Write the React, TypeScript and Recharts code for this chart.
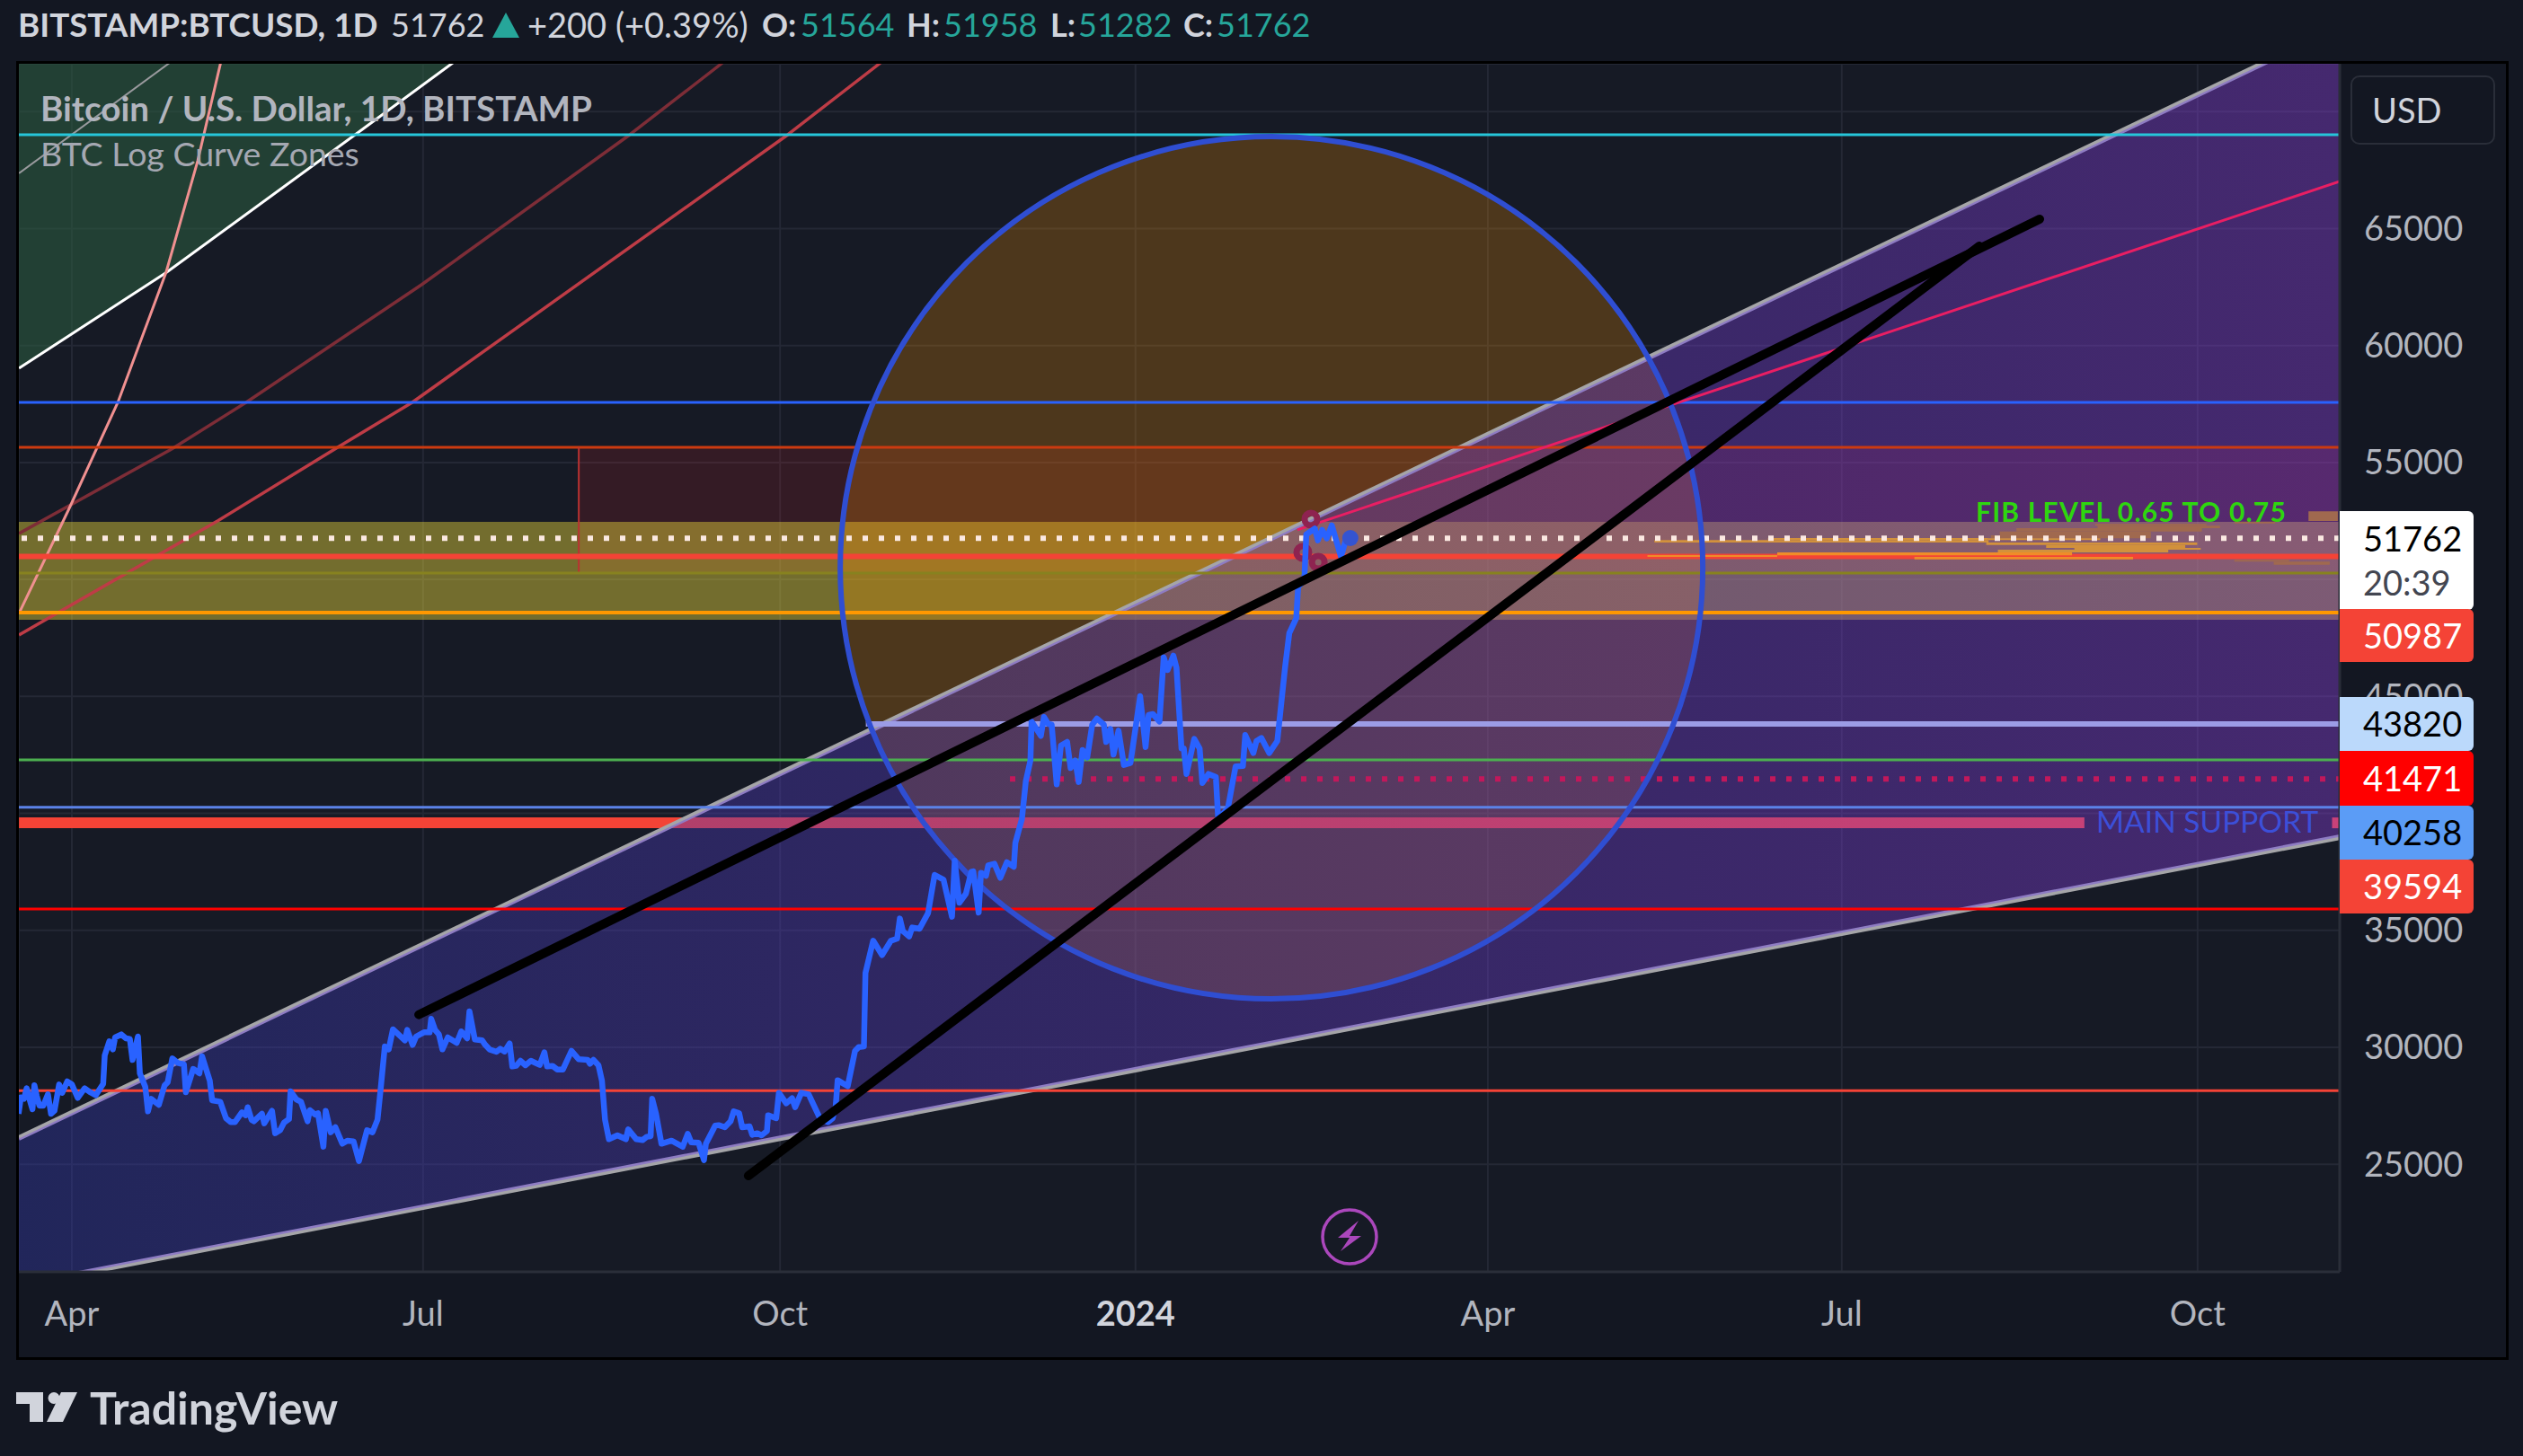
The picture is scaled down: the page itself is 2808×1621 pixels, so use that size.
import {
  Area,
  CartesianGrid,
  ComposedChart,
  Line,
  ReferenceArea,
  ReferenceDot,
  ReferenceLine,
  XAxis,
  YAxis,
} from "recharts";

type Pair = [number, number];

// x unit is days since 1 Apr 2023
const xDomain = [-13.72, 586.98];
const yDomain = [20398, 72046];
const xTicks = [0, 90.9, 183.3, 275.3, 366.5, 458.1, 550.2];
const xTickLabels = ["Apr", "Jul", "Oct", "2024", "Apr", "Jul", "Oct"];
const yTicks = [25000, 30000, 35000, 40000, 45000, 50000, 55000, 60000, 65000, 70000];
// these three sit fully behind the USD button and the price tags
const hiddenYLabels = [40000, 50000, 70000];

const closes: Pair[] = [
  [-13.8, 27157], [-13.2, 27861], [-12.4, 27797], [-11.7, 28245], [-11, 27797], [-10.2, 27349], [-9.7, 28373],
  [-9.1, 27925], [-8.4, 27503], [-7.4, 27503], [-6.2, 27989], [-5.4, 27157], [-4.5, 27285], [-3.3, 28411],
  [-2.5, 28053], [-1.2, 28539], [0, 28411], [1.5, 27835], [3.3, 28245], [4.7, 28079], [6.2, 27951], [7.1, 28181],
  [8.1, 28437], [8.5, 29653], [9.7, 30255], [10.6, 29909], [11.2, 30421], [12.8, 30549], [14, 30383], [15, 30357],
  [15.7, 29461], [17.1, 30459], [17.6, 28885], [19, 28309], [19.7, 27259], [20.5, 27797], [22.5, 27541], [24, 28373],
  [24.8, 28501], [26, 29525], [27.4, 29333], [29, 29269], [29.5, 28079], [31.4, 29077], [33, 28885], [33.7, 29615],
  [35.7, 28565], [36.3, 27733], [38.4, 27669], [39.9, 26965], [41.1, 26799], [42.2, 26799], [44, 27221], [45, 27093],
  [45.5, 27437], [46.5, 26901], [47.1, 26837], [49.2, 27157], [49.8, 26747], [51.8, 27285], [52.6, 26325],
  [53.9, 26453], [54.9, 26773], [56.2, 26927], [56.6, 28117], [58.1, 27771], [59.3, 27669], [61, 26837], [61.6, 27309],
  [63, 27117], [63.7, 27181], [65.1, 25749], [65.7, 27285], [67, 26363], [68.2, 26581], [70, 25877], [71.3, 26005],
  [72.9, 25979], [74.3, 25135], [76.4, 26453], [77.8, 26363], [79.1, 26901], [79.9, 28181], [81, 30037], [82, 29909],
  [83.1, 30767], [86.2, 30293], [86.8, 30741], [88.2, 30101], [89.1, 30459], [91.1, 30639], [92.6, 30639], [93, 31215],
  [94, 30741], [95, 30549], [95.9, 29909], [97.3, 30421], [99.6, 30191], [100.8, 30677], [102.3, 30383], [102.9, 31535],
  [104.3, 30331], [106.2, 30293], [107, 30101], [108.1, 29909], [109.9, 29807], [110.9, 29935], [112, 29819],
  [113.3, 30165], [114, 29179], [115, 29205], [116.1, 29423], [117.4, 29231], [118.8, 29423], [121.1, 29243],
  [122.3, 29781], [123, 29179], [124.4, 29205], [125.6, 29051], [127.1, 29051], [129.3, 29845], [131.2, 29487],
  [133.5, 29461], [134.1, 29295], [135, 29461], [136.3, 29231], [137.2, 28565], [138, 26901], [139, 26069],
  [141.2, 26235], [143.4, 26069], [144, 26491], [146.1, 26069], [147.7, 26031], [148.8, 26171], [149.8, 26197],
  [150.2, 27797], [151.2, 27157], [152.6, 25877], [155.2, 26005], [158.1, 25749], [159.4, 26299], [160.3, 25941],
  [162.2, 25915], [163.6, 25173], [164.1, 25877], [166.5, 26645], [167.4, 26671], [169, 26581], [170.5, 26837],
  [171.3, 27259], [172.7, 27183], [173.5, 26581], [175.4, 26619], [176.1, 26261], [177.4, 26325], [178.5, 26235],
  [179.9, 26415], [180.2, 27093], [182.3, 26965], [183, 28053], [184.9, 27605], [186.4, 27823], [187.2, 27439],
  [188.8, 28053], [190.7, 27989], [193.6, 26965], [195.7, 26799], [196.9, 26965], [197.7, 27477], [198.2, 28591],
  [200.8, 28335], [202.7, 29845], [203.7, 30011], [205, 30037], [205.4, 33173], [207.4, 34555], [209.7, 33941],
  [212, 34555], [213.6, 34645], [214.3, 35503], [215.1, 34965], [216.7, 34735], [217.5, 35119], [219.4, 35067],
  [221.6, 35733], [223.3, 37371], [225.6, 37167], [227.8, 35579], [228.5, 37973], [229.7, 36181], [231.4, 36565],
  [232.8, 37499], [233.3, 37525], [234.7, 35759], [235.3, 37461], [236.6, 37333], [237.2, 37781], [238.8, 37845],
  [240.3, 37243], [242, 37909], [243.8, 37717], [244.2, 38741], [245.9, 39765], [246.9, 41365], [248.1, 42261],
  [248.4, 43925], [250.8, 43311], [251.6, 44117], [252.7, 43823], [253.6, 43797], [254.9, 41237], [256, 42901],
  [257.6, 43055], [258.5, 41941], [259.7, 42261], [260.6, 41339], [261.6, 42709], [262.8, 42389], [264.1, 43797],
  [265.3, 44053], [267.1, 43797], [267.7, 43055], [268.8, 43605], [269.6, 42517], [270.9, 43541], [272.3, 42069],
  [274, 42159], [276.5, 45013], [277.9, 42837], [278.7, 44207], [279.8, 44245], [281.5, 43925], [282.6, 46677],
  [283.6, 46127], [285.1, 46741], [285.9, 46229], [287.2, 42773], [287.8, 42773], [288.5, 41685], [290.5, 43183],
  [291.9, 42773], [292.6, 41301], [294.2, 41685], [296.1, 41557], [296.7, 39765], [299.2, 40213], [301.2, 42005],
  [303.1, 42031], [303.7, 43349], [305.8, 42581], [306.6, 43093], [307.9, 43221], [309.9, 42581], [312, 43093],
  [314, 46229], [315.1, 47701], [316.9, 48341], [317.4, 49685], [319, 50005], [319.5, 51925], [321.7, 52181],
  [322.5, 51669], [323.6, 52117], [324.8, 51759], [326.1, 52309], [328.5, 50965], [329.8, 51733],
];

// log curves, top left
const whiteCurve: Pair[] = [[-13.7, 59029], [24.4, 63115], [73.3, 69013], [98.6, 72085]];
const grayCurve: Pair[] = [[-13.7, 67362], [25.3, 72086]];
const pinkCurve: Pair[] = [[-13.7, 48547], [-0.8, 53000], [11.9, 57570], [24.4, 63138], [32.6, 67915], [38.5, 72085]];
const darkRedCurve: Pair[] = [[-13.7, 51963], [25.8, 55573], [45.1, 57570], [90.5, 62600], [144.4, 69013], [168.4, 72085]];
const redCurve: Pair[] = [[-13.7, 47625], [37.7, 52501], [68.8, 55650], [88.1, 57570], [185.3, 69013], [209.3, 72085]];

// channel and trend lines
const channelDays = [-13.7, 587];
const channelUpper = [26083, 73596];
const channelLower = [19866, 39022];
const fibLine: Pair[] = [[317.2, 52120], [587, 67016]];
const blackLine1: Pair[] = [[89.8, 31395], [509.3, 65403]];
const blackLine2: Pair[] = [[175.1, 24505], [493.7, 64251]];

// horizontal levels
const cyanLevel = 69013;
const blueLevel = 57570;
const rustLevel = 55650;
const lastPrice = 51762;
const redLevel = 50987;
const oliveLevel = 50270;
const orangeLevel = 48580;
const greenLevel = 42290;
const steelLevel = 40258;
const deepRedLevel = 35912;
const lowRedLevel = 28150;
const lavenderSegment: Pair[] = [[205.5, 43820], [587, 43820]];
const crimsonDots: Pair[] = [[242.8, 41471], [587, 41471]];
const supportLeft: Pair[] = [[-13.7, 39594], [520.9, 39594]];
const supportRight: Pair[] = [[585, 39594], [587, 39594]];
const fibBand = [48275, 52460];
const boxStartDay = 131.2;
const boxRange = [50274, 55650];
const circleCentre: Pair = [310.5, 50500];
const rings: Pair[] = [[320.7, 52578], [318.6, 51157], [322.6, 50735]];
const lastDot: Pair = [330.9, 51771];

// volume profile rows: dayFrom, dayTo, priceLow, priceHigh
const vpOrange = [
  [409.6, 496.1, 51579, 51682], [439, 496, 51682, 51771], [496, 525, 51682, 51759], [495.5, 550.1, 51477, 51579],
  [511, 547, 51349, 51477], [518.3, 551, 51272, 51349], [498.5, 542.6, 51157, 51272],
];
const vpBright = [[441.4, 517.7, 51029, 51157], [407.8, 441.4, 50965, 51042], [476.9, 533.5, 50863, 50965]];
const vpBlue = [[496.1, 587, 51579, 51682], [551, 587, 51157, 51759], [542.6, 587, 51157, 51272]];
const vpPurple = [[517.7, 587, 51029, 51157], [506.3, 587, 50965, 51029], [533.5, 587, 50863, 50965]];
const vpFaded = [
  [523.7, 552.5, 52296, 52373], [524.3, 556, 52194, 52296], [503.3, 551.3, 52053, 52194], [499, 538.1, 51887, 52053],
  [496.7, 538.1, 51759, 51887], [559.7, 573.9, 50760, 50837], [569.9, 584.4, 50632, 50760], [559.7, 570.3, 52399, 52476],
  [578.9, 586.5, 52501, 52911],
];

const headerValues = ["51564", "51958", "51282", "51762"];
const tagLabels = ["51762", "20:39", "50987", "43820", "41471", "40258", "39594"];

const FONT = "Lato, 'Noto Sans', sans-serif";
const rows = (pairs: Pair[]) => pairs.map(([x, y]) => ({ x, y }));

function XTick({ x, y, payload, index }: any) {
  const bold = payload.value === 275.3;
  return (
    <text
      x={x}
      y={y}
      dy={52}
      textAnchor="middle"
      fontFamily={FONT}
      fontSize={38}
      fontWeight={bold ? 700 : 400}
      fill={bold ? "#d1d4dc" : "#b2b5be"}
    >
      {xTickLabels[index]}
    </text>
  );
}

function plainLine(data: Pair[], color: string, width: number, z: number, dash?: string, cap?: "round") {
  return (
    <Line
      key={`${color}-${z}`}
      data={rows(data)}
      dataKey="y"
      stroke={color}
      strokeWidth={width}
      strokeDasharray={dash}
      strokeLinecap={cap}
      strokeLinejoin="round"
      dot={false}
      activeDot={false}
      isAnimationActive={false}
      legendType="none"
      zIndex={z}
    />
  );
}

function vpRows(list: number[][], color: string, z: number) {
  return list.map((r, i) => (
    <ReferenceArea
      key={`${color}-${i}`}
      x1={r[0]}
      x2={r[1]}
      y1={r[2]}
      y2={r[3]}
      fill={color}
      fillOpacity={1}
      stroke="none"
      zIndex={z}
    />
  ));
}

function Abs({ left, top, size, color, weight, spacing, children }: any) {
  return (
    <span
      style={{
        position: "absolute",
        left,
        top,
        transform: "translateY(-50%)",
        fontFamily: FONT,
        fontSize: size,
        color,
        fontWeight: weight ?? 400,
        letterSpacing: spacing,
        whiteSpace: "nowrap",
        lineHeight: 1,
      }}
    >
      {children}
    </span>
  );
}

function PriceTag({ top, height, bg, color, label }: any) {
  return (
    <div
      style={{
        position: "absolute",
        left: 2604,
        top,
        width: 149,
        height,
        background: bg,
        borderRadius: "0 6px 6px 0",
      }}
    >
      <Abs left={26} top={height / 2 - 1} size={38} color={color}>
        {label}
      </Abs>
    </div>
  );
}

export default function App() {
  return (
    <div style={{ position: "relative", width: 2808, height: 1621, background: "#131722", overflow: "hidden" }}>
      <style>{"body{margin:0;background:#131722}"}</style>
      <ComposedChart
        width={2808}
        height={1621}
        margin={{ top: 71, right: 17, bottom: 109, left: 21 }}
      >
        <defs>
          <linearGradient id="channelFill" x1="0" y1="0" x2="1" y2="0">
            <stop offset="0%" stopColor="rgb(50,56,170)" />
            <stop offset="100%" stopColor="rgb(140,63,222)" />
          </linearGradient>
        </defs>
        <CartesianGrid stroke="#242835" strokeWidth={2} fill="#161a25" fillOpacity={1} />
        <XAxis
          type="number"
          dataKey="x"
          domain={xDomain}
          allowDataOverflow
          ticks={xTicks}
          interval={0}
          height={96}
          axisLine={{ stroke: "#2a2e39", strokeWidth: 3 }}
          tickLine={false}
          tick={<XTick />}
        />
        <YAxis
          orientation="right"
          type="number"
          domain={yDomain}
          allowDataOverflow
          ticks={yTicks}
          interval={0}
          width={187}
          axisLine={{ stroke: "#2a2e39", strokeWidth: 3 }}
          tickLine={false}
          tickMargin={21}
          tickFormatter={(v: number) => (hiddenYLabels.includes(v) ? "" : String(v))}
          tick={{ fontFamily: FONT, fontSize: 38, fill: "#b2b5be" }}
        />

        <Area
          data={whiteCurve.map(([x, y]) => ({ x, range: [y, 72100] }))}
          dataKey="range"
          fill="#2b5a40"
          fillOpacity={0.6}
          stroke="none"
          dot={false}
          activeDot={false}
          isAnimationActive={false}
          zIndex={1}
        />
        <ReferenceArea x1={boxStartDay} x2={xDomain[1]} y1={boxRange[0]} y2={boxRange[1]} fill="rgb(255,40,40)" fillOpacity={0.13} stroke="none" zIndex={2} />
        <ReferenceArea x1={xDomain[0]} x2={xDomain[1]} y1={fibBand[0]} y2={fibBand[1]} fill="rgb(255,235,59)" fillOpacity={0.4} stroke="none" zIndex={3} />
        <ReferenceDot x={circleCentre[0]} y={circleCentre[1]} r={480} fill="#ff9800" fillOpacity={0.24} stroke="none" zIndex={4} />
        {plainLine(supportLeft, "#f44336", 12, 5)}
        {plainLine(supportRight, "#f44336", 12, 6)}
        <Area
          data={channelDays.map((x, i) => ({ x, range: [channelLower[i], channelUpper[i]] }))}
          dataKey="range"
          fill="url(#channelFill)"
          fillOpacity={0.4}
          stroke="#8e7cc3"
          strokeWidth={4}
          dot={false}
          activeDot={false}
          isAnimationActive={false}
          zIndex={7}
        />
        {plainLine(channelDays.map((x, i): Pair => [x, channelUpper[i] + 90]), "#a5a5a8", 3.5, 8)}
        {plainLine(channelDays.map((x, i): Pair => [x, channelLower[i] - 90]), "#a5a5a8", 3.5, 9)}

        {plainLine(grayCurve, "#9a9a9e", 2, 10)}
        {plainLine(whiteCurve, "#ffffff", 3, 11)}
        {plainLine(darkRedCurve, "#7d2d37", 3.5, 12)}
        {plainLine(redCurve, "#be3c46", 3.5, 13)}
        {plainLine(pinkCurve, "#f09090", 3, 14)}

        <ReferenceLine y={cyanLevel} stroke="#26c6da" strokeWidth={3} zIndex={15} />
        <ReferenceLine y={blueLevel} stroke="#2962ff" strokeWidth={3} zIndex={15} />
        <ReferenceLine y={rustLevel} stroke="#cc3a10" strokeWidth={3} zIndex={15} />
        <ReferenceLine segment={[{ x: boxStartDay, y: boxRange[0] }, { x: boxStartDay, y: boxRange[1] }]} stroke="#b93232" strokeWidth={2} zIndex={15} />
        <ReferenceLine y={redLevel} stroke="#f44336" strokeWidth={6} zIndex={16} />
        {vpRows(vpFaded, "#a0694f", 17)}
        {vpRows(vpBlue, "#555ab9", 18)}
        {vpRows(vpOrange, "#d2913c", 19)}
        {vpRows(vpPurple, "#7355aa", 20)}
        {vpRows(vpBright, "#f08c28", 21)}
        <ReferenceLine y={lastPrice} stroke="#fbe9e2" strokeWidth={6} strokeDasharray="6 12" zIndex={22} />
        <ReferenceLine y={oliveLevel} stroke="#87821f" strokeWidth={3} zIndex={22} />
        <ReferenceLine y={orangeLevel} stroke="#ff9800" strokeWidth={4} zIndex={22} />
        {plainLine(lavenderSegment, "#9c9ce6", 6, 23)}
        <ReferenceLine y={greenLevel} stroke="#4caf50" strokeWidth={3} zIndex={24} />
        {plainLine(crimsonDots, "#c2185b", 6, 25, "6 12")}
        <ReferenceLine y={steelLevel} stroke="#5b82e8" strokeWidth={3} zIndex={26} />
        <ReferenceLine y={deepRedLevel} stroke="#ff0000" strokeWidth={3} zIndex={26} />
        <ReferenceLine y={lowRedLevel} stroke="#f44336" strokeWidth={3} zIndex={26} />
        {plainLine(fibLine, "#e91e63", 3, 27)}

        <ReferenceDot x={circleCentre[0]} y={circleCentre[1]} r={480} fill="none" stroke="#2f4ed2" strokeWidth={6} zIndex={28} />
        {rings.map(([x, y], i) => (
          <ReferenceDot key={i} x={x} y={y} r={7} fill="none" stroke="#8e2350" strokeWidth={7} zIndex={29} />
        ))}
        {plainLine(closes, "#2962ff", 6.5, 30)}
        {plainLine(blackLine1, "#000000", 10, 31, undefined, "round")}
        {plainLine(blackLine2, "#000000", 10, 32, undefined, "round")}
        <ReferenceDot x={lastDot[0]} y={lastDot[1]} r={9} fill="#3454d1" stroke="none" zIndex={33} />
      </ComposedChart>

      {/* frame */}
      <div style={{ position: "absolute", left: 18, top: 68, width: 2768, height: 1440, border: "3px solid #000", pointerEvents: "none" }} />

      {/* header */}
      <Abs left={20} top={27} size={36.8} color="#d1d4dc" weight={700}>BITSTAMP:BTCUSD, 1D</Abs>
      <Abs left={435} top={27} size={36} color="#d1d4dc">51762</Abs>
      <svg style={{ position: "absolute", left: 548, top: 14 }} width={30} height={28}>
        <polygon points="15,0 30,28 0,28" fill="#26a69a" />
      </svg>
      <Abs left={587} top={27} size={38} color="#d1d4dc">+200 (+0.39%)</Abs>
      <Abs left={848} top={27} size={36} color="#d1d4dc" weight={700}>O:</Abs>
      <Abs left={891} top={27} size={36} color="#26a69a">{headerValues[0]}</Abs>
      <Abs left={1009} top={27} size={36} color="#d1d4dc" weight={700}>H:</Abs>
      <Abs left={1050} top={27} size={36} color="#26a69a">{headerValues[1]}</Abs>
      <Abs left={1169} top={27} size={36} color="#d1d4dc" weight={700}>L:</Abs>
      <Abs left={1200} top={27} size={36} color="#26a69a">{headerValues[2]}</Abs>
      <Abs left={1317} top={27} size={36} color="#d1d4dc" weight={700}>C:</Abs>
      <Abs left={1354} top={27} size={36} color="#26a69a">{headerValues[3]}</Abs>

      {/* legend */}
      <Abs left={45} top={120} size={38.6} color="#b2b5be" weight={700}>Bitcoin / U.S. Dollar, 1D, BITSTAMP</Abs>
      <Abs left={45} top={171} size={37.5} color="#a5a8b2">BTC Log Curve Zones</Abs>

      {/* annotations */}
      <Abs left={2199} top={569} size={30} color="#2ed60f" weight={700} spacing={1.2}>FIB LEVEL 0.65 TO 0.75</Abs>
      <Abs left={2333} top={915} size={33.5} color="#3c4fd8">MAIN SUPPORT</Abs>

      {/* price scale */}
      <div style={{ position: "absolute", left: 2616, top: 84, width: 157, height: 73, border: "2px solid #2a2e39", borderRadius: 10, background: "#131722" }}>
        <Abs left={22} top={36} size={38} color="#d1d4dc">USD</Abs>
      </div>
      <div style={{ position: "absolute", left: 2604, top: 569, width: 149, height: 110, background: "#fff", borderRadius: "0 6px 6px 0" }}>
        <Abs left={26} top={30} size={38} color="#000">{tagLabels[0]}</Abs>
        <Abs left={26} top={79} size={38} color="#434651">{tagLabels[1]}</Abs>
      </div>
      <PriceTag top={678} height={59} bg="#f44336" color="#fff" label={tagLabels[2]} />
      <PriceTag top={776} height={60} bg="#bbd9fb" color="#000" label={tagLabels[3]} />
      <PriceTag top={836} height={61} bg="#ff0000" color="#fff" label={tagLabels[4]} />
      <PriceTag top={897} height={60} bg="#5b9cf6" color="#000" label={tagLabels[5]} />
      <PriceTag top={957} height={60} bg="#f44336" color="#fff" label={tagLabels[6]} />

      {/* lightning badge */}
      <svg style={{ position: "absolute", left: 1468, top: 1343 }} width={68} height={68}>
        <circle cx={34} cy={34} r={30} fill="none" stroke="#ab47bc" strokeWidth={3.5} />
        <polygon points="44,16 21,35 34,35 24,50 47,33 34,33" fill="#ab47bc" />
      </svg>

      {/* footer logo */}
      <svg style={{ position: "absolute", left: 18, top: 1550 }} width={70} height={34}>
        <path d="M0 0H30V33H15V13H0Z" fill="#d1d4dc" />
        <circle cx={42} cy={6.5} r={6.5} fill="#d1d4dc" />
        <path d="M50 0H68L52 33H34Z" fill="#d1d4dc" />
      </svg>
      <Abs left={100} top={1567} size={50} color="#d1d4dc" weight={700}>TradingView</Abs>
    </div>
  );
}
